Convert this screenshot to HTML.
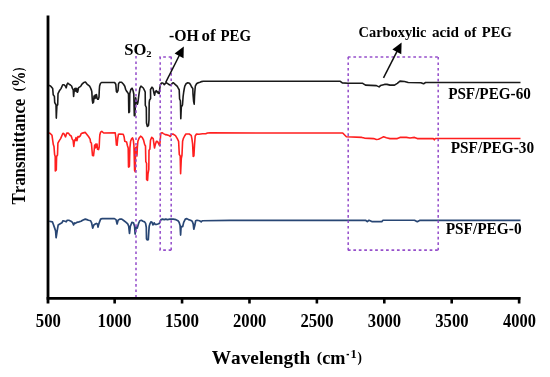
<!DOCTYPE html>
<html><head><meta charset="utf-8"><style>
html,body{margin:0;padding:0;background:#fff;}
svg{display:block;}
text{font-family:"Liberation Serif",serif;font-weight:bold;fill:#000;font-kerning:none;}
</style></head><body>
<svg style="filter:blur(0.25px)" width="550" height="377" viewBox="0 0 550 377">
<rect width="550" height="377" fill="#fff"/>

<g fill="none" stroke-linejoin="round" stroke-width="1.6">
<polyline points="49.1,85.2 51,86.4 52.7,88.6 53.2,94.7 54.4,96.4 54.7,102.5 56,104.8 56.3,118.1 56.9,105.9 57.7,104.8 58,93.6 59.4,90.8 61,88.6 62.7,84.7 63.8,84.7 65.3,86 66.2,87.8 66.9,84.7 67.8,83.1 69.1,84.1 70.4,85 71.6,86 72.3,88.2 73.2,89.8 73.6,96.5 74.2,90.7 74.8,88.5 75.3,91 75.8,88.2 76.3,91.5 76.8,88.5 77.4,92.3 77.8,91.5 78.6,87.6 79.9,86.9 80.9,86 81.8,84.4 83.1,83.1 83.8,82.5 85.4,82 87,84.1 89.6,86.2 90.5,87.8 91.5,90.4 91.8,91.6 92.3,100 92.8,103.1 93.6,102 94,96 94.6,98.5 95.2,95 95.8,98 96.4,94.5 97,97.5 97.6,99.3 98.3,99.3 99,97 99.3,90 99.6,86 100.4,83.5 101.5,82.5 114.6,82.5 115.8,84.3 116.4,91.5 117,92.3 118,90.5 118.3,87 118.5,84 119.4,82.3 121.6,82.2 123.5,84.3 124.8,86.2 125.6,89.3 126.7,91.4 127.7,92.5 128.5,94.1 128.8,112.6 129.5,112 129.8,93.5 130.9,89.3 132,88.2 133,90.4 133.8,94 134.3,115.8 134.9,115.8 135.7,97.8 136.5,102 137.4,104.2 138,102 138.9,94.6 139.9,88.2 141,86.1 143.3,88 144.6,90.6 145.2,92 145.3,105.2 146.3,107.5 146.5,123 147.3,126.4 148.5,125.5 149,120 149.2,102.5 149.6,99.9 150.6,98.6 150.5,89.5 152,87.2 153,88.2 154,93.3 154.6,95.2 155.2,92 156.2,90.7 156.8,92 157.5,91.5 158.2,93.2 158.8,92.2 159.2,93.6 159.5,90.7 160.3,85 161.5,83 162.8,83 164.3,84.6 165.4,83.4 166.5,82.8 168.5,84.2 170.6,85.3 172.2,83.4 173.2,82.7 175.1,84.3 177.3,86.4 178.4,88.5 179.2,89.7 179.6,99 180.4,100.8 180.8,118.8 181.3,107.2 182.5,104.8 183.1,96.7 183.7,92 184.3,88.5 184.8,86.2 186,83.8 187.8,82.7 189.5,83.3 190.7,85 191.8,87.3 192.8,88.5 193,94.3 193.6,101.3 194.2,104.2 194.5,97 194.8,92 195.3,86.2 196.5,83.8 198.3,82.7 200,82.2 201.5,81.6 203.3,81.3 340.3,81.3 342.3,82.9 348,83.2 362.7,83.3 365.5,85.1 376.4,85.6 379.1,86.9 380.5,85.6 384.5,84.4 387,84.4 390,85.1 394.5,85.1 397.3,83.3 400,81.1 404.5,81.5 408.2,82.5 420.9,82.7 423.6,83.8 425.5,82.5 520.5,82.5" stroke="#1a1a1a"/>
<polyline points="48.7,133 50,133.3 52,135.3 53.3,144.6 54,146.6 54.6,154.5 55.2,156.5 55.3,171 56.3,170 56.6,156.5 57.5,155 57.9,143.2 59.3,140.6 60.6,138.6 62.6,134 63,133.3 63.9,133.7 65.5,136.9 66.8,133.1 68.4,133.1 70,135.3 71.2,136 72.2,139.1 73.1,140.4 73.8,146.5 74.4,141.4 75,139.5 75.4,140.5 76,137.6 76.5,140 77,140.7 77.9,136.6 79.2,136.9 80.5,135.6 81.1,133.7 82.4,133.1 85.3,132.4 88.5,136.5 90.1,139.1 90.6,142.3 91.4,143 92,150 92.5,155.5 93.5,155.8 94.2,150 94.6,145 95.2,148 95.8,144 96.4,147.5 97,144 97.6,149.3 98.6,149.6 99.2,147 99.5,140 99.8,135 100.6,132.2 101.8,131.4 103.7,133 115.2,132.9 115.8,137 116.4,145 117.1,145.2 117.7,138.7 118.4,134.3 119.7,134 123.2,134.3 124.1,136.8 124.8,141.3 126.6,141.9 127.3,145.2 128.2,147.9 128.5,167.1 129.4,166.5 129.9,147.9 130.6,141.3 131.7,138.6 132.6,137.9 133.3,139.9 133.9,145.2 134.6,170.4 135.2,171.8 135.6,147.9 136.3,147 137,155.9 137.3,147.9 137.9,141.3 139.2,137.9 140.6,136.2 142.2,137.3 143.6,140.2 144.7,144.6 145.5,146 145.8,161.4 146.6,163.6 146.6,179.6 147.6,180.3 148,173.8 148.8,169.4 149,150.4 149.9,149 150.5,140.2 151.7,137.3 153.2,138.7 154.5,148 155.2,145 156.4,141.3 157.6,141.6 159.6,145.7 160.2,140.6 160.8,133.3 162.1,132.7 163.4,133.6 165.3,134.6 167.2,134.9 169.1,135.6 170.4,136.5 171.3,134.3 172.9,134 175.5,135.6 177.3,138.6 178.6,141.3 179.3,154.5 180.2,155.9 180.6,173.8 181.3,158.5 182,155 182.6,141.3 183.3,138.6 184.6,136 185.9,134 189.2,134 191.2,135.3 191.9,138.6 192.6,143.9 193.2,156.5 193.9,155.9 194.5,145.2 195.2,136 196.5,134 199,134.2 202.5,133.8 205.7,133.8 207.5,133 210,132.9 342.7,133 346.4,136.8 361.8,137.4 364.5,138.1 373.6,138.6 376.4,139.5 378.5,139.3 380.9,138.1 383.6,136.8 386.4,137.7 390,138.6 397.3,138.6 400,137.4 406.4,137.4 410,138 414.5,137.4 417.3,138.6 433.3,138.5 434.3,139.8 435.3,138.5 520.5,138.5" stroke="#ff1f1f"/>
<polyline points="49.2,220.9 52.4,221.5 53.4,224.1 54.5,227.3 55.6,230.5 56.1,237.4 57.1,231 58.2,224.6 59.8,223.6 61.9,222.5 63,220.4 65.1,220.9 66.2,221.5 67.2,219.9 68.8,219.9 71,220.9 72.5,222 73.6,224.6 74.7,222.5 75.5,223 76.8,222 78.9,221.5 81,220.9 82.6,219.9 85.3,218.8 86.9,219.3 88.5,219.9 90.6,220.4 91.6,222.5 92.7,227.8 93.8,224.6 95.3,223.6 96.3,223.1 97.4,223.6 98,226.8 99,223 100.6,218.8 102.2,218.3 114.4,218.3 116,219.3 117.1,223.6 118.1,219.9 119.7,218.8 121.8,218.8 124,220.4 126.1,222 127.7,223.6 128.7,225.7 129.5,233.1 130.3,226.2 131.9,222 133.5,222.5 134.6,226.2 135.1,233.7 136.2,226.2 137.2,227.8 138.8,222.5 139.8,220.4 141.4,219.9 143,220.9 144.6,221.5 145.6,223 146.3,227 146.5,238.5 147.3,239.5 148.3,239.3 148.8,231 149.2,226 149.9,223.6 150.9,221.5 152,222 153,224.6 154.1,222.5 155.2,224.1 156.3,224.1 157.8,223.6 159.4,223 161,219.3 162.6,218.8 164.2,219.3 165.8,218.8 167.4,219.3 170,218.8 173.2,218.8 175.9,219.3 178,220.4 179.1,222 180.1,225.2 180.6,234.7 181.1,226.2 182.7,226.2 183.7,222 185.3,218.8 186.9,218.3 188.5,219.3 190.6,219.9 192.2,220.9 193.2,223.5 193.8,228.9 194.9,224.6 195.7,220.4 197,219.9 199.6,220.4 201.2,221.5 202.3,220.4 230,220 365.5,219.9 367.3,221.3 369,219.9 371.8,221.2 381.8,221.2 383,219.9 414.5,219.9 417.3,221.4 420,220 520.5,220" stroke="#284674" stroke-width="1.7" transform="translate(0 0.35)"/>
</g>
<g fill="none" stroke="#9650cb" stroke-width="1.55">
<line x1="136" y1="56" x2="136" y2="298.5" stroke-dasharray="2.6 2.83"/>
<line x1="160.2" y1="56.7" x2="160.2" y2="250.8" stroke-dasharray="2.6 2.85"/>
<line x1="171.2" y1="56.7" x2="171.2" y2="250.8" stroke-dasharray="2.6 2.85"/>
<line x1="159.4" y1="56.9" x2="172" y2="56.9" stroke-dasharray="2.7 2.75" stroke-dashoffset="1.65"/>
<line x1="159.4" y1="250.1" x2="172" y2="250.1" stroke-dasharray="2.7 2.75" stroke-dashoffset="1.65"/>
<line x1="348.2" y1="57" x2="348.2" y2="250.8" stroke-dasharray="2.6 2.85"/>
<line x1="438.2" y1="57" x2="438.2" y2="250.8" stroke-dasharray="2.6 2.85"/>
<line x1="347.9" y1="56.9" x2="439" y2="56.9" stroke-dasharray="2.7 2.75"/>
<line x1="347.9" y1="250.1" x2="439" y2="250.1" stroke-dasharray="2.7 2.75"/>
</g>
<g stroke-linecap="butt">
<line x1="48" y1="15.4" x2="48" y2="303.6" stroke="#000" stroke-width="2.8"/>
<line x1="46.6" y1="298.4" x2="520.4" y2="298.4" stroke="#000" stroke-width="2.7"/>
<line x1="114.65" y1="297" x2="114.65" y2="303.5" stroke="#000" stroke-width="2.6"/><line x1="182.06" y1="297" x2="182.06" y2="303.5" stroke="#000" stroke-width="2.6"/><line x1="249.47" y1="297" x2="249.47" y2="303.5" stroke="#000" stroke-width="2.6"/><line x1="316.88" y1="297" x2="316.88" y2="303.5" stroke="#000" stroke-width="2.6"/><line x1="384.29" y1="297" x2="384.29" y2="303.5" stroke="#000" stroke-width="2.6"/><line x1="451.70" y1="297" x2="451.70" y2="303.5" stroke="#000" stroke-width="2.6"/><line x1="519.11" y1="297" x2="519.11" y2="303.5" stroke="#000" stroke-width="2.6"/>
</g>
<line x1="165.6" y1="82.6" x2="179.52" y2="54.98" stroke="#111" stroke-width="1.5"/><polygon points="183.8,46.5 183.54,58.13 174.61,53.62" fill="#000"/>
<line x1="383.5" y1="77.9" x2="397.28" y2="50.96" stroke="#111" stroke-width="1.5"/><polygon points="401.6,42.5 401.27,54.13 392.37,49.57" fill="#000"/>
<text transform="translate(35.83 326.80) scale(0.9197 1)" style="font-size:18.2px">500</text>
<text transform="translate(97.49 326.80) scale(0.9343 1)" style="font-size:18.2px">1000</text>
<text transform="translate(164.90 326.80) scale(0.9343 1)" style="font-size:18.2px">1500</text>
<text transform="translate(232.97 326.80) scale(0.9158 1)" style="font-size:18.2px">2000</text>
<text transform="translate(300.38 326.80) scale(0.9158 1)" style="font-size:18.2px">2500</text>
<text transform="translate(367.86 326.80) scale(0.9137 1)" style="font-size:18.2px">3000</text>
<text transform="translate(435.27 326.80) scale(0.9137 1)" style="font-size:18.2px">3500</text>
<text transform="translate(503.09 326.80) scale(0.9025 1)" style="font-size:18.2px">4000</text>
<text transform="translate(211.73 363.70) scale(0.9951 1)" style="font-size:19.4px">Wavelength</text>
<text transform="translate(316.68 361.90) scale(1.1049 1)" style="font-size:14.8px">(</text>
<text transform="translate(322.18 363.70) scale(0.9379 1)" style="font-size:19.4px">cm</text>
<text transform="translate(346.26 358.80) scale(0.5435 1)" style="font-size:17px">-</text>
<text transform="translate(350.60 358.10) scale(1.0865 1)" style="font-size:11.5px">1</text>
<text transform="translate(357.57 361.70) scale(0.8945 1)" style="font-size:14.8px">)</text>
<text transform="translate(25.00 204.56) rotate(-90) scale(0.9228 1)" style="font-size:18.3px">Transmittance</text>
<text transform="translate(23.00 91.35) rotate(-90) scale(0.8362 1)" style="font-size:14.9px">(</text>
<text transform="translate(25.00 86.84) rotate(-90) scale(0.8227 1)" style="font-size:18.3px">%</text>
<text transform="translate(23.00 71.25) rotate(-90) scale(0.7317 1)" style="font-size:14.9px">)</text>
<text transform="translate(124.21 54.50) scale(1.0024 1)" style="font-size:16.6px">SO</text>
<text transform="translate(146.25 57.30) scale(1.1779 1)" style="font-size:9px">2</text>
<text transform="translate(169.02 40.90) scale(0.9875 1)" style="font-size:16px">-OH</text>
<text transform="translate(201.46 40.90) scale(1.0563 1)" style="font-size:16px">of</text>
<text transform="translate(220.45 40.90) scale(0.9292 1)" style="font-size:16px">PEG</text>
<text transform="translate(358.60 36.70) scale(0.9272 1)" style="font-size:15.5px">Carboxylic</text>
<text transform="translate(432.01 36.70) scale(0.9820 1)" style="font-size:15.5px">acid</text>
<text transform="translate(464.03 36.70) scale(0.9701 1)" style="font-size:15.5px">of</text>
<text transform="translate(481.75 36.70) scale(0.9463 1)" style="font-size:15.5px">PEG</text>
<text transform="translate(448.14 99.40) scale(0.9210 1)" style="font-size:16.5px">PSF/PEG-60</text>
<text transform="translate(450.74 152.50) scale(0.9278 1)" style="font-size:16.5px">PSF/PEG-30</text>
<text transform="translate(445.64 234.10) scale(0.9309 1)" style="font-size:16.5px">PSF/PEG-0</text>
</svg>
</body></html>
